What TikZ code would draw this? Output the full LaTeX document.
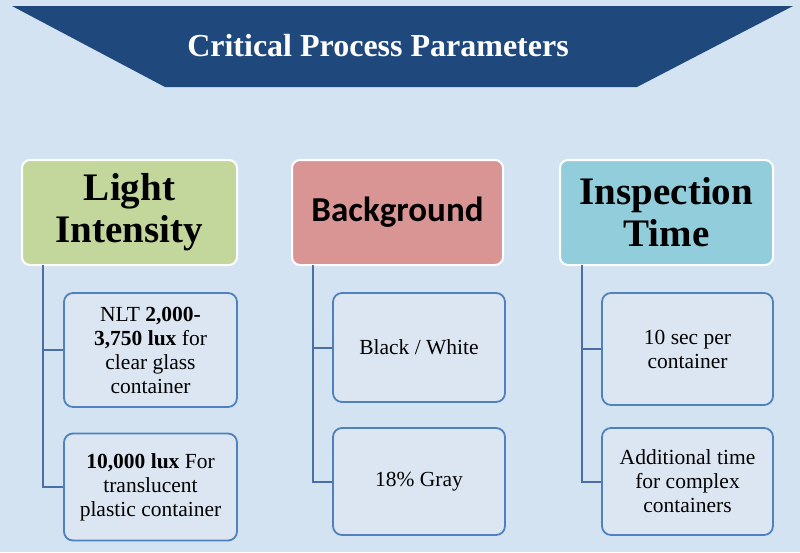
\documentclass[tikz,border=0pt]{standalone}
\usepackage{fontspec}
\setmainfont{Liberation Serif}
\newfontfamily\calib{Carlito}
\definecolor{bg}{HTML}{D3E3F2}
\definecolor{ban}{HTML}{1F497D}
\definecolor{hg}{HTML}{C3D69B}
\definecolor{hr}{HTML}{D99594}
\definecolor{hb}{HTML}{92CDDC}
\definecolor{cf}{HTML}{DCE6F2}
\definecolor{cb}{HTML}{4F81BD}
\definecolor{ln}{HTML}{4A6FA5}
\begin{document}
\begin{tikzpicture}[x=1pt,y=-1pt,
  head/.style={draw=white,line width=2pt,rounded corners=8pt},
  htext/.style={align=center,font=\fontsize{39}{42}\selectfont\bfseries},
  child/.style={draw=cb,line width=1.8pt,fill=cf,rounded corners=9pt,align=center,font=\fontsize{21.5}{24}\selectfont},
  conn/.style={draw=ln,line width=2pt}]
\fill[bg] (0,0) rectangle (800,552);
\useasboundingbox (0,0) rectangle (800,552);
\fill[ban] (12,6) -- (793,6) -- (637,87) -- (165,87) -- cycle;
\node[white,font=\fontsize{32}{34}\selectfont\bfseries] (title) at (378,46) {Critical Process Parameters};
% headers
\path[head,fill=hg] (22,160) rectangle (237,265);
\node[htext] (h1) at (129.5,212) {Light\\Intensity};
\path[head,fill=hr] (292,160) rectangle (503,265);
\node[font=\calib\fontsize{35}{37}\selectfont\bfseries] (h2) at (397.5,212) {Background};
\path[head,fill=hb] (560,160) rectangle (773,265);
\node[htext] (h3) at (666.5,212) {Inspection\\Time};
% children
\node[child,minimum width=173pt,minimum height=114pt] (c11) at (150.5,350) {NLT \textbf{2,000-}\\\textbf{3,750 lux} for\\clear glass\\container};
\node[child,minimum width=173pt,minimum height=107pt] (c12) at (150.5,487) {\textbf{10,000 lux} For\\translucent\\plastic container};
\node[child,minimum width=172pt,minimum height=109pt] (c21) at (419,347.5) {Black / White};
\node[child,minimum width=172pt,minimum height=107pt] (c22) at (419,481.5) {18\% Gray};
\node[child,minimum width=171pt,minimum height=112pt] (c31) at (687.5,349) {10 sec per\\container};
\node[child,minimum width=171pt,minimum height=107pt] (c32) at (687.5,481.5) {Additional time\\for complex\\containers};
\coordinate (t1) at (43,265);
\coordinate (t2) at (313,265);
\coordinate (t3) at (582,265);
\draw[conn] (t1) |- (c11.west);
\draw[conn] (t1) |- (c12.west);
\draw[conn] (t2) |- (c21.west);
\draw[conn] (t2) |- (c22.west);
\draw[conn] (t3) |- (c31.west);
\draw[conn] (t3) |- (c32.west);
\end{tikzpicture}
\end{document}
